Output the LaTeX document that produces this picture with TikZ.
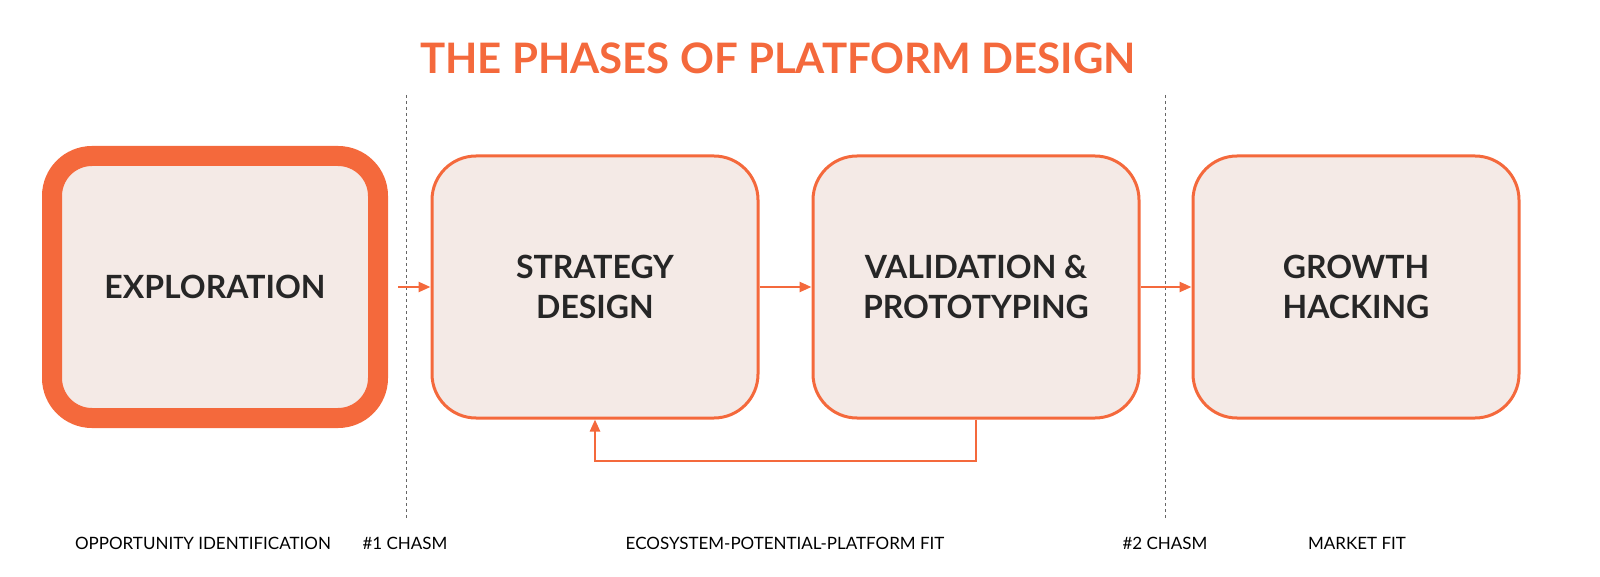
\documentclass[tikz,border=0pt]{standalone}
\usepackage{fontspec}
\setmainfont{Lato}
\usetikzlibrary{arrows.meta}
\definecolor{org}{HTML}{F4693C}
\definecolor{pale}{HTML}{F4EAE6}
\tikzset{
  phase/.style={draw=org, fill=pale, rounded corners=22pt, line width=1.5pt, minimum width=163pt, minimum height=131pt, align=center, font=\fontsize{16}{20}\selectfont\bfseries, text=black!85},
  conn/.style={draw=org, line width=1.2pt, -{Triangle[length=6pt,width=5pt]}},
  lab/.style={font=\fontsize{8.5}{10}\selectfont, text=black},
  sep/.style={draw=black!60, line width=0.4pt, dash pattern=on 1.5pt off 1.5pt}
}
\begin{document}
\begin{tikzpicture}[x=0.5pt,y=-0.5pt]
\path[use as bounding box] (0,0) rectangle (1600,577);
\clip (0,0) rectangle (1600,577);
\node[font=\fontsize{21}{25}\selectfont\bfseries, text=org] (title) at (778,58) {THE PHASES OF PLATFORM DESIGN};
\draw[sep] (406,95) -- (406,520);
\draw[sep] (1165,95) -- (1165,520);
\node[phase, line width=10pt, rounded corners=20pt] (exp) at (215,287) {EXPLORATION};
\node[phase] (str) at (595,287) {STRATEGY\\DESIGN};
\node[phase] (val) at (976,287) {VALIDATION \&\\PROTOTYPING};
\node[phase] (gro) at (1356,287) {GROWTH\\HACKING};
\draw[conn] (exp.east) ++(5pt,0) -- (str.west);
\draw[conn] (str.east) -- (val.west);
\draw[conn] (val.east) -- (gro.west);
\coordinate (c1) at (976,461);
\coordinate (c2) at (595,461);
\draw[conn] (val.south) -- (c1) -- (c2) -- (str.south);
\node[lab] (l1) at (203,543) {OPPORTUNITY IDENTIFICATION};
\node[lab] (l2) at (405,543) {\#1 CHASM};
\node[lab] (l3) at (785,543) {ECOSYSTEM-POTENTIAL-PLATFORM FIT};
\node[lab] (l4) at (1165,543) {\#2 CHASM};
\node[lab] (l5) at (1357,543) {MARKET FIT};
\end{tikzpicture}
\end{document}
